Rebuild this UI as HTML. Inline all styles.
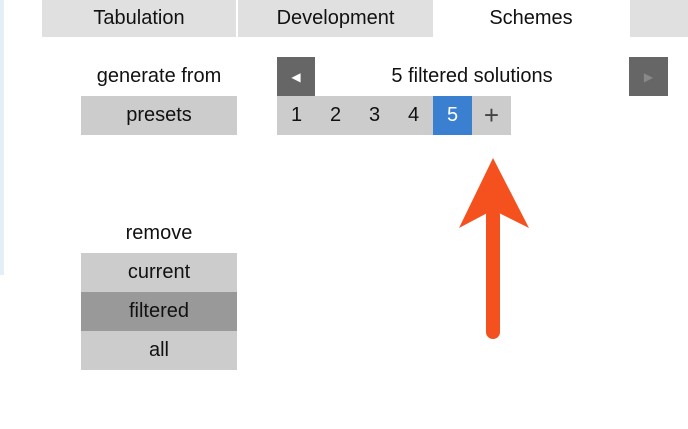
<!DOCTYPE html>
<html><head><style>
body{margin:0;width:688px;height:429px;background:#fff;position:relative;overflow:hidden;font-family:"Liberation Sans",sans-serif;font-size:20px;color:#111}
.b{position:absolute;display:flex;align-items:center;justify-content:center;box-sizing:border-box}
</style></head><body>
<div class="b" style="left:0;top:0;width:4px;height:275px;background:#e3eef9"></div>
<div class="b" style="left:42px;top:0;width:194px;height:37px;background:#e0e0e0">Tabulation</div>
<div class="b" style="left:238px;top:0;width:195px;height:37px;background:#e0e0e0">Development</div>
<div class="b" style="left:433px;top:0;width:196px;height:37px;background:#fff">Schemes</div>
<div class="b" style="left:630px;top:0;width:58px;height:37px;background:#e0e0e0"></div>
<div class="b" style="left:81px;top:57px;width:156px;height:39px">generate from</div>
<div class="b" style="left:81px;top:96px;width:156px;height:39px;background:#ccc">presets</div>
<div class="b" style="left:277px;top:57px;width:38px;height:39px;background:#666;color:#fff;font-size:12px">&#9664;</div>
<div class="b" style="left:315px;top:57px;width:314px;height:39px">5 filtered solutions</div>
<div class="b" style="left:629px;top:57px;width:39px;height:39px;background:#666;color:#888;font-size:12px">&#9654;</div>
<div class="b" style="left:277px;top:96px;width:234px;height:39px;background:#ccc"></div>
<div class="b" style="left:277px;top:96px;width:39px;height:39px">1</div>
<div class="b" style="left:316px;top:96px;width:39px;height:39px">2</div>
<div class="b" style="left:355px;top:96px;width:39px;height:39px">3</div>
<div class="b" style="left:394px;top:96px;width:39px;height:39px">4</div>
<div class="b" style="left:433px;top:96px;width:39px;height:39px;background:#3a7fd0;color:#fff">5</div>
<div class="b" style="left:472px;top:96px;width:39px;height:39px;font-size:26px;color:#444;font-weight:300">+</div>
<div class="b" style="left:81px;top:214px;width:156px;height:39px">remove</div>
<div class="b" style="left:81px;top:253px;width:156px;height:39px;background:#ccc">current</div>
<div class="b" style="left:81px;top:292px;width:156px;height:39px;background:#999">filtered</div>
<div class="b" style="left:81px;top:331px;width:156px;height:39px;background:#ccc">all</div>
<svg style="position:absolute;left:0;top:0" width="688" height="429">
<line x1="493" y1="215" x2="493" y2="332" stroke="#f4511e" stroke-width="14" stroke-linecap="round"/>
<polygon points="493,158 529,228 493,210 459,228" fill="#f4511e"/>
</svg>
</body></html>
